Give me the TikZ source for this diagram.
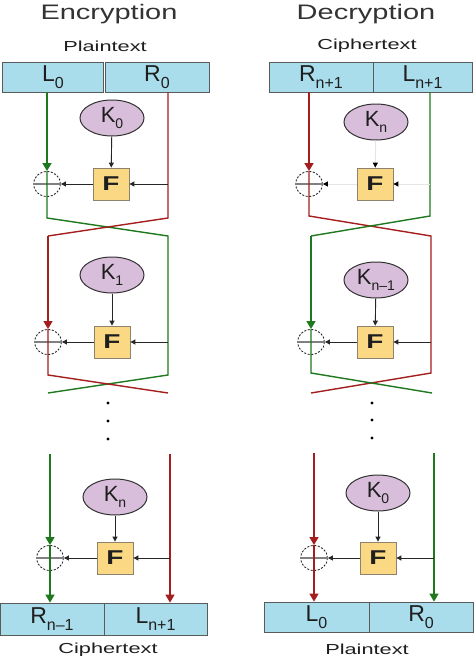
\documentclass[tikz,border=0pt]{standalone}
\usepackage{fontspec}
\setmainfont{Liberation Sans}
\usetikzlibrary{shapes.geometric,arrows.meta}
\definecolor{boxfill}{RGB}{170,221,235}
\definecolor{boxdraw}{RGB}{90,90,90}
\definecolor{ellfill}{RGB}{216,190,218}
\definecolor{elldraw}{RGB}{50,50,50}
\definecolor{ffill}{RGB}{250,216,132}
\definecolor{fdraw}{RGB}{140,130,110}
\definecolor{gcol}{RGB}{30,120,30}
\definecolor{rcol}{RGB}{165,30,30}
\definecolor{txt}{RGB}{30,30,30}
\newcommand{\lsub}[1]{\raisebox{-0.3em}{\fontsize{16}{16}\selectfont #1}}
\newcommand{\ksub}[1]{\raisebox{-0.3em}{\fontsize{14}{14}\selectfont #1}}
\begin{document}
\begin{tikzpicture}[x=1pt,y=-1pt,
  half/.style={rectangle,draw=boxdraw,fill=boxfill,line width=0.8pt,minimum height=30pt,inner sep=0pt,text=txt,font=\fontsize{23}{23}\selectfont},
  keyell/.style={ellipse,draw=elldraw,fill=ellfill,line width=1pt,minimum width=64pt,minimum height=36pt,inner sep=0pt,text=txt,font=\fontsize{22}{22}\selectfont},
  fbox/.style={rectangle,draw=fdraw,fill=ffill,line width=0.8pt,minimum width=36pt,minimum height=32pt,inner sep=0pt,text=txt,font=\fontsize{20}{20}\selectfont\bfseries},
  xorn/.style={ellipse,draw=black!85,dash pattern=on 2pt off 1.6pt,line width=0.9pt,minimum width=27pt,minimum height=25pt,inner sep=0pt},
  plusl/.style={draw=black!50,line width=1.1pt},
  gline/.style={draw=gcol,line width=1.4pt},
  rline/.style={draw=rcol,line width=1.4pt},
  carrow/.style={-{Triangle[width=9pt,length=8pt]}},
  barrow/.style={draw=black!85,line width=0.9pt,-{Triangle[width=5pt,length=5pt]}},
  faint/.style={draw=black!10,line width=0.9pt,-{Triangle[width=5pt,length=5pt,black]}},
  titletext/.style={inner sep=0pt,text=black!80,font=\fontsize{21}{21}\selectfont,xscale=1.38},
  captext/.style={inner sep=0pt,text=txt,font=\fontsize{14.5}{14.5}\selectfont,xscale=1.5},
  dotn/.style={circle,fill=black,inner sep=0pt,minimum size=3.4pt}
]
\useasboundingbox (0,0) rectangle (474,661);
\fill[white] (0,0) rectangle (474,661);

% ================= ENCRYPTION =================
\node[titletext] (etitle) at (109,14) {Encryption};
\node[captext] (eplain) at (105,46) {Plaintext};
\node[half,minimum width=101pt] (eL0) at (53,77) {L\lsub{0}};
\node[half,minimum width=104pt] (eR0) at (157,77) {R\lsub{0}};

% round 1
\node[keyell] (eK0) at (112,118) {K\ksub{0}};
\node[fbox] (eF1) at (111,184) {\scalebox{1.4}[1]{F}};
\node[xorn] (ex1) at (47,184) {};
\coordinate (er1) at (168,184);
\coordinate (ea1) at (47,218);
\coordinate (eb1) at (168,218);
\coordinate (ea2) at (48,236);
\coordinate (eb2) at (168,236);
% round 2
\node[keyell] (eK1) at (112,275) {K\ksub{1}};
\node[fbox] (eF2) at (112,342) {\scalebox{1.4}[1]{F}};
\node[xorn] (ex2) at (48,342) {};
\coordinate (er2) at (168,342);
\coordinate (ea3) at (48,375);
\coordinate (eb3) at (168,375);
\coordinate (ea4) at (48,393);
\coordinate (eb4) at (168,393);
% dots
\node[dotn] (ed1) at (108,403) {};
\node[dotn] (ed2) at (108,421) {};
\node[dotn] (ed3) at (108,439) {};
% round n
\node[keyell] (eKn) at (115,497) {K\ksub{n}};
\node[fbox] (eF3) at (115,558) {\scalebox{1.4}[1]{F}};
\node[xorn] (ex3) at (50,558) {};
\coordinate (eg3) at (50,454);
\coordinate (er3t) at (170,454);
\coordinate (er3) at (170,558);
\node[half,minimum width=104pt,minimum height=32pt] (eRn) at (52,619) {R\lsub{n–1}};
\node[half,minimum width=103pt,minimum height=32pt] (eLn) at (155.5,619) {L\lsub{n+1}};
\node[captext] (ecipher) at (108,650) {Ciphertext};

% xor plus signs
\draw[plusl] (ex1.west) -- (ex1.east);
\draw[plusl] (ex2.west) -- (ex2.east);
\draw[plusl] (ex3.west) -- (ex3.east);

% lines round 1
\draw[gline,carrow] (eL0.south -| ex1) -- (ex1.north);
\draw[gline] (ex1.north) -- (ex1.south) -- (ea1) -- (eb2) -- (eb3) -- (ea4);
\draw[rline] (eR0.south -| eb1) -- (eb1) -- (ea2);
\draw[rline,carrow] (ea2) -- (ex2.north);
\draw[rline] (ex2.north) -- (ex2.south) -- (ea3) -- (eb4);
\draw[barrow] (eK0) -- (eF1);
\draw[barrow] (er1) -- (eF1);
\draw[barrow] (eF1) -- (ex1);
\draw[barrow] (eK1) -- (eF2);
\draw[barrow] (er2) -- (eF2);
\draw[barrow] (eF2) -- (ex2);
% round n
\draw[gline,carrow] (eg3) -- (ex3.north);
\draw[gline,carrow] (ex3.north) -- (eRn.north -| ex3);
\draw[rline,carrow] (er3t) -- (eLn.north -| er3t);
\draw[barrow] (eKn) -- (eF3);
\draw[barrow] (er3) -- (eF3);
\draw[barrow] (eF3) -- (ex3);

% ================= DECRYPTION =================
\node[titletext] (dtitle) at (366,14) {Decryption};
\node[captext] (dcipher) at (367,46) {Ciphertext};
\node[half,minimum width=104pt] (dRn) at (321,77) {R\lsub{n+1}};
\node[half,minimum width=99pt] (dLn) at (422.5,77) {L\lsub{n+1}};

% round 1
\node[keyell] (dKn) at (376,122) {K\ksub{n}};
\node[fbox] (dF1) at (375,184) {\scalebox{1.4}[1]{F}};
\node[xorn] (dx1) at (309,184) {};
\coordinate (dl1) at (430,184);
\coordinate (da1) at (309,216);
\coordinate (db1) at (430,216);
\coordinate (da2) at (311,236);
\coordinate (db2) at (431,236);
% round 2
\node[keyell] (dKn1) at (376,280) {K\ksub{n–1}};
\node[fbox] (dF2) at (375,342) {\scalebox{1.4}[1]{F}};
\node[xorn] (dx2) at (311,342) {};
\coordinate (dl2) at (431,342);
\coordinate (da3) at (311,373);
\coordinate (db3) at (431,373);
\coordinate (da4) at (311,393);
\coordinate (db4) at (432,393);
% dots
\node[dotn] (dd1) at (372,403) {};
\node[dotn] (dd2) at (372,420) {};
\node[dotn] (dd3) at (372,438) {};
% last round
\node[keyell] (dK0) at (378,493) {K\ksub{0}};
\node[fbox] (dF3) at (378,558) {\scalebox{1.4}[1]{F}};
\node[xorn] (dx3) at (314,558) {};
\coordinate (dr3t) at (314,453);
\coordinate (dg3t) at (434,453);
\coordinate (dg3) at (434,558);
\node[half,minimum width=105pt] (dL0) at (316.5,617) {L\lsub{0}};
\node[half,minimum width=104pt] (dR0) at (421,617) {R\lsub{0}};
\node[captext] (dplain) at (367,649) {Plaintext};

\draw[plusl] (dx1.west) -- (dx1.east);
\draw[plusl] (dx2.west) -- (dx2.east);
\draw[plusl] (dx3.west) -- (dx3.east);

% lines
\draw[rline,carrow] (dRn.south -| dx1) -- (dx1.north);
\draw[rline] (dx1.north) -- (dx1.south) -- (da1) -- (db2) -- (db3) -- (da4);
\draw[gline] (dLn.south -| db1) -- (db1) -- (da2);
\draw[gline,carrow] (da2) -- (dx2.north);
\draw[gline] (dx2.north) -- (dx2.south) -- (da3) -- (db4);
\draw[faint] (dKn) -- (dF1);
\draw[faint] (dl1) -- (dF1);
\draw[faint] (dF1) -- (dx1);
\draw[barrow] (dKn1) -- (dF2);
\draw[barrow] (dl2) -- (dF2);
\draw[barrow] (dF2) -- (dx2);
\draw[rline,carrow] (dr3t) -- (dx3.north);
\draw[rline,carrow] (dx3.north) -- (dL0.north -| dx3);
\draw[gline,carrow] (dg3t) -- (dR0.north -| dg3t);
\draw[barrow] (dK0) -- (dF3);
\draw[barrow] (dg3) -- (dF3);
\draw[barrow] (dF3) -- (dx3);
\end{tikzpicture}
\end{document}
